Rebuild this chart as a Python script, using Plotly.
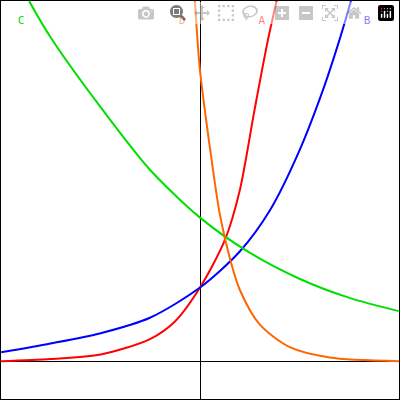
import plotly.graph_objects as go

ax = [-2.7,-2.03,-1.35,-0.68,-0.34,0,0.34,0.54,0.74,0.92,1.04]
ay = [0.0,0.03,0.09,0.30,0.54,1,1.65,2.32,3.41,4.35,4.89]
bx = [-2.7,-2.03,-1.35,-0.68,0,0.54,0.95,1.35,1.69,1.89,2.05]
by = [0.12,0.24,0.38,0.59,1,1.49,2.05,2.86,3.74,4.35,4.89]
cx = [-2.32,-2.03,-1.35,-0.68,0,0.68,1.35,2.03,2.7]
cy = [4.89,4.4,3.45,2.6,1.95,1.47,1.12,0.86,0.68]
dx = [-0.07,0,0.14,0.27,0.41,0.54,0.81,1.22,1.76,2.7]
dy = [4.89,3.95,2.86,1.99,1.38,0.97,0.5,0.19,0.05,0.0]
labels = ["A", "B", "C", "D"]
colors = ["#ff0000", "#0000ff", "#00e000", "#ff6600"]
label_x = [0.84, 2.27, -2.43, -0.24]
label_y = [4.62, 4.62, 4.62, 4.62]

fig = go.Figure()
for (x, y), c in zip([(ax, ay), (bx, by), (cx, cy), (dx, dy)], colors):
    fig.add_trace(go.Scatter(x=x, y=y, mode="lines", line=dict(color=c, width=2, shape="spline", smoothing=0.8),
                             showlegend=False, hoverinfo="skip"))
fig.add_trace(go.Scatter(x=label_x, y=label_y, mode="text", text=labels,
                         textfont=dict(color=colors, size=11, family="DejaVu Sans Mono"),
                         showlegend=False))
fig.update_layout(width=400, height=400, margin=dict(l=1, r=1, t=1, b=1),
                  plot_bgcolor="white", paper_bgcolor="white")
fig.update_xaxes(range=[-200/74, 200/74], showgrid=False, showticklabels=False, ticks="",
                 zeroline=True, zerolinecolor="black", zerolinewidth=1,
                 showline=True, linecolor="black", mirror=True)
fig.update_yaxes(range=[-38/74, 362/74], showgrid=False, showticklabels=False, ticks="",
                 zeroline=True, zerolinecolor="black", zerolinewidth=1,
                 showline=True, linecolor="black", mirror=True)
fig.write_html("out.html", post_script="document.body.style.margin='0';document.body.style.overflow='hidden';")
